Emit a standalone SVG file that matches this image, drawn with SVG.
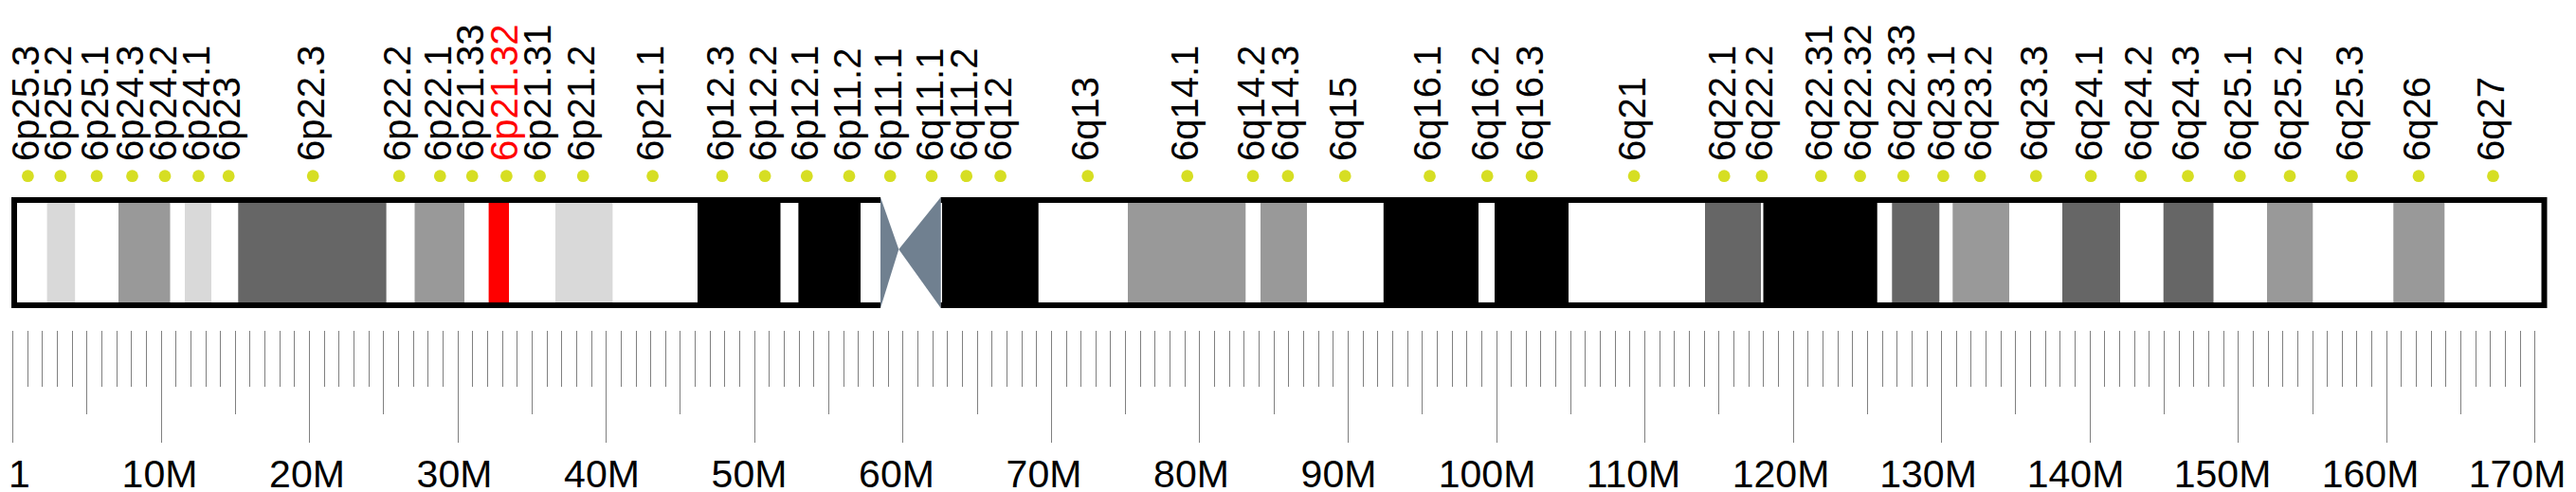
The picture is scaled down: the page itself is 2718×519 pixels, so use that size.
<svg xmlns="http://www.w3.org/2000/svg" width="2718" height="519" viewBox="0 0 2718 519">
<style>
.gneg{fill:#fff}.g25{fill:#d9d9d9}.g50{fill:#999}.g75{fill:#666}.g100{fill:#000}.acen{fill:#708090}.sel{fill:#f00}
.lbl{font-family:"Liberation Sans",Arial,Helvetica,sans-serif;font-size:40px;fill:#000}
.lbl.red{fill:#f00}
.dot{fill:#d6de23}
.tick{stroke:#808080;stroke-width:1;fill:none;shape-rendering:crispEdges}
.scale{font-family:"Liberation Sans",Arial,Helvetica,sans-serif;font-size:41px;fill:#000;text-anchor:middle}
.outline{fill:none;stroke:#000;stroke-width:6;stroke-linejoin:miter}
</style>
<rect width="2718" height="519" fill="#fff"/>
<g id="chromosome">
<rect class="gneg" x="15" y="211" width="914" height="111"/>
<rect class="gneg" x="992.7" y="211" width="1691.8" height="111"/>
<rect class="g25" x="49.6" y="211" width="29.6" height="111"/>
<rect class="g50" x="125" y="211" width="54.5" height="111"/>
<rect class="g25" x="195" y="211" width="28" height="111"/>
<rect class="g75" x="251.3" y="211" width="156.3" height="111"/>
<rect class="g50" x="437.5" y="211" width="52.5" height="111"/>
<rect class="sel" x="515.6" y="211" width="21.4" height="111"/>
<rect class="g25" x="586" y="211" width="60.4" height="111"/>
<rect class="g100" x="736" y="211" width="87.5" height="111"/>
<rect class="g100" x="842.4" y="211" width="65.6" height="111"/>
<polygon class="acen" points="929,208 948.3,263 929,325"/>
<polygon class="acen" points="992.7,208 948.3,263 992.7,325"/>
<rect class="g100" x="994" y="211" width="101.7" height="111"/>
<rect class="g50" x="1190" y="211" width="124.3" height="111"/>
<rect class="g50" x="1330" y="211" width="49" height="111"/>
<rect class="g100" x="1459.8" y="211" width="100.2" height="111"/>
<rect class="g100" x="1577" y="211" width="78" height="111"/>
<rect class="g75" x="1799" y="211" width="59" height="111"/>
<rect class="g100" x="1860.5" y="211" width="120.2" height="111"/>
<rect class="g75" x="1996.3" y="211" width="50" height="111"/>
<rect class="g50" x="2060.3" y="211" width="59.7" height="111"/>
<rect class="g75" x="2176" y="211" width="61" height="111"/>
<rect class="g75" x="2282.7" y="211" width="52.8" height="111"/>
<rect class="g50" x="2392" y="211" width="48.3" height="111"/>
<rect class="g50" x="2525.3" y="211" width="54" height="111"/>
<path class="outline" d="M929,211H15V322H929"/>
<path class="outline" d="M992.7,211H2684.5V322H992.7"/>
</g>
<g id="connectors"></g>
<g id="bands">
<g id="b6p25-3"><circle class="dot" cx="29.4" cy="185.7" r="6.4"/><text class="lbl" transform="translate(40.9,170) rotate(-90)">6p25.3</text></g>
<g id="b6p25-2"><circle class="dot" cx="63.8" cy="185.7" r="6.4"/><text class="lbl" transform="translate(75.3,170) rotate(-90)">6p25.2</text></g>
<g id="b6p25-1"><circle class="dot" cx="102.1" cy="185.7" r="6.4"/><text class="lbl" transform="translate(113.6,170) rotate(-90)">6p25.1</text></g>
<g id="b6p24-3"><circle class="dot" cx="139.5" cy="185.7" r="6.4"/><text class="lbl" transform="translate(151,170) rotate(-90)">6p24.3</text></g>
<g id="b6p24-2"><circle class="dot" cx="174" cy="185.7" r="6.4"/><text class="lbl" transform="translate(185.5,170) rotate(-90)">6p24.2</text></g>
<g id="b6p24-1"><circle class="dot" cx="209.5" cy="185.7" r="6.4"/><text class="lbl" transform="translate(221,170) rotate(-90)">6p24.1</text></g>
<g id="b6p23"><circle class="dot" cx="241.2" cy="185.7" r="6.4"/><text class="lbl" transform="translate(252.7,170) rotate(-90)">6p23</text></g>
<g id="b6p22-3"><circle class="dot" cx="330.2" cy="185.7" r="6.4"/><text class="lbl" transform="translate(341.7,170) rotate(-90)">6p22.3</text></g>
<g id="b6p22-2"><circle class="dot" cx="421.2" cy="185.7" r="6.4"/><text class="lbl" transform="translate(432.7,170) rotate(-90)">6p22.2</text></g>
<g id="b6p22-1"><circle class="dot" cx="464.3" cy="185.7" r="6.4"/><text class="lbl" transform="translate(475.8,170) rotate(-90)">6p22.1</text></g>
<g id="b6p21-33"><circle class="dot" cx="498.2" cy="185.7" r="6.4"/><text class="lbl" transform="translate(509.7,170) rotate(-90)">6p21.33</text></g>
<g id="b6p21-32"><circle class="dot" cx="534.4" cy="185.7" r="6.4"/><text class="lbl red" transform="translate(545.9,170) rotate(-90)">6p21.32</text></g>
<g id="b6p21-31"><circle class="dot" cx="569.6" cy="185.7" r="6.4"/><text class="lbl" transform="translate(581.1,170) rotate(-90)">6p21.31</text></g>
<g id="b6p21-2"><circle class="dot" cx="615.2" cy="185.7" r="6.4"/><text class="lbl" transform="translate(626.7,170) rotate(-90)">6p21.2</text></g>
<g id="b6p21-1"><circle class="dot" cx="688.6" cy="185.7" r="6.4"/><text class="lbl" transform="translate(700.1,170) rotate(-90)">6p21.1</text></g>
<g id="b6p12-3"><circle class="dot" cx="762" cy="185.7" r="6.4"/><text class="lbl" transform="translate(773.5,170) rotate(-90)">6p12.3</text></g>
<g id="b6p12-2"><circle class="dot" cx="807.1" cy="185.7" r="6.4"/><text class="lbl" transform="translate(818.6,170) rotate(-90)">6p12.2</text></g>
<g id="b6p12-1"><circle class="dot" cx="851.3" cy="185.7" r="6.4"/><text class="lbl" transform="translate(862.8,170) rotate(-90)">6p12.1</text></g>
<g id="b6p11-2"><circle class="dot" cx="896" cy="185.7" r="6.4"/><text class="lbl" transform="translate(907.5,170) rotate(-90)">6p11.2</text></g>
<g id="b6p11-1"><circle class="dot" cx="939.2" cy="185.7" r="6.4"/><text class="lbl" transform="translate(950.7,170) rotate(-90)">6p11.1</text></g>
<g id="b6q11-1"><circle class="dot" cx="983" cy="185.7" r="6.4"/><text class="lbl" transform="translate(994.5,170) rotate(-90)">6q11.1</text></g>
<g id="b6q11-2"><circle class="dot" cx="1019.7" cy="185.7" r="6.4"/><text class="lbl" transform="translate(1031.2,170) rotate(-90)">6q11.2</text></g>
<g id="b6q12"><circle class="dot" cx="1055.6" cy="185.7" r="6.4"/><text class="lbl" transform="translate(1067.1,170) rotate(-90)">6q12</text></g>
<g id="b6q13"><circle class="dot" cx="1147.7" cy="185.7" r="6.4"/><text class="lbl" transform="translate(1159.2,170) rotate(-90)">6q13</text></g>
<g id="b6q14-1"><circle class="dot" cx="1252.7" cy="185.7" r="6.4"/><text class="lbl" transform="translate(1264.2,170) rotate(-90)">6q14.1</text></g>
<g id="b6q14-2"><circle class="dot" cx="1322" cy="185.7" r="6.4"/><text class="lbl" transform="translate(1333.5,170) rotate(-90)">6q14.2</text></g>
<g id="b6q14-3"><circle class="dot" cx="1358.9" cy="185.7" r="6.4"/><text class="lbl" transform="translate(1370.4,170) rotate(-90)">6q14.3</text></g>
<g id="b6q15"><circle class="dot" cx="1419.2" cy="185.7" r="6.4"/><text class="lbl" transform="translate(1430.7,170) rotate(-90)">6q15</text></g>
<g id="b6q16-1"><circle class="dot" cx="1508.5" cy="185.7" r="6.4"/><text class="lbl" transform="translate(1520,170) rotate(-90)">6q16.1</text></g>
<g id="b6q16-2"><circle class="dot" cx="1569.2" cy="185.7" r="6.4"/><text class="lbl" transform="translate(1580.7,170) rotate(-90)">6q16.2</text></g>
<g id="b6q16-3"><circle class="dot" cx="1616.1" cy="185.7" r="6.4"/><text class="lbl" transform="translate(1627.6,170) rotate(-90)">6q16.3</text></g>
<g id="b6q21"><circle class="dot" cx="1724.1" cy="185.7" r="6.4"/><text class="lbl" transform="translate(1735.6,170) rotate(-90)">6q21</text></g>
<g id="b6q22-1"><circle class="dot" cx="1819.2" cy="185.7" r="6.4"/><text class="lbl" transform="translate(1830.7,170) rotate(-90)">6q22.1</text></g>
<g id="b6q22-2"><circle class="dot" cx="1858.9" cy="185.7" r="6.4"/><text class="lbl" transform="translate(1870.4,170) rotate(-90)">6q22.2</text></g>
<g id="b6q22-31"><circle class="dot" cx="1921.4" cy="185.7" r="6.4"/><text class="lbl" transform="translate(1932.9,170) rotate(-90)">6q22.31</text></g>
<g id="b6q22-32"><circle class="dot" cx="1962.6" cy="185.7" r="6.4"/><text class="lbl" transform="translate(1974.1,170) rotate(-90)">6q22.32</text></g>
<g id="b6q22-33"><circle class="dot" cx="2008.3" cy="185.7" r="6.4"/><text class="lbl" transform="translate(2019.8,170) rotate(-90)">6q22.33</text></g>
<g id="b6q23-1"><circle class="dot" cx="2050.4" cy="185.7" r="6.4"/><text class="lbl" transform="translate(2061.9,170) rotate(-90)">6q23.1</text></g>
<g id="b6q23-2"><circle class="dot" cx="2089.1" cy="185.7" r="6.4"/><text class="lbl" transform="translate(2100.6,170) rotate(-90)">6q23.2</text></g>
<g id="b6q23-3"><circle class="dot" cx="2148.3" cy="185.7" r="6.4"/><text class="lbl" transform="translate(2159.8,170) rotate(-90)">6q23.3</text></g>
<g id="b6q24-1"><circle class="dot" cx="2206.1" cy="185.7" r="6.4"/><text class="lbl" transform="translate(2217.6,170) rotate(-90)">6q24.1</text></g>
<g id="b6q24-2"><circle class="dot" cx="2258.8" cy="185.7" r="6.4"/><text class="lbl" transform="translate(2270.3,170) rotate(-90)">6q24.2</text></g>
<g id="b6q24-3"><circle class="dot" cx="2308.5" cy="185.7" r="6.4"/><text class="lbl" transform="translate(2320,170) rotate(-90)">6q24.3</text></g>
<g id="b6q25-1"><circle class="dot" cx="2363.3" cy="185.7" r="6.4"/><text class="lbl" transform="translate(2374.8,170) rotate(-90)">6q25.1</text></g>
<g id="b6q25-2"><circle class="dot" cx="2416" cy="185.7" r="6.4"/><text class="lbl" transform="translate(2427.5,170) rotate(-90)">6q25.2</text></g>
<g id="b6q25-3"><circle class="dot" cx="2481.5" cy="185.7" r="6.4"/><text class="lbl" transform="translate(2493,170) rotate(-90)">6q25.3</text></g>
<g id="b6q26"><circle class="dot" cx="2552" cy="185.7" r="6.4"/><text class="lbl" transform="translate(2563.5,170) rotate(-90)">6q26</text></g>
<g id="b6q27"><circle class="dot" cx="2630.5" cy="185.7" r="6.4"/><text class="lbl" transform="translate(2642,170) rotate(-90)">6q27</text></g>
</g>
<g id="ruler">
<path class="tick" d="M29.16,349v59M44.81,349v59M60.47,349v59M76.12,349v59M107.43,349v59M123.09,349v59M138.74,349v59M154.4,349v59M185.71,349v59M201.36,349v59M217.02,349v59M232.67,349v59M263.98,349v59M279.64,349v59M295.29,349v59M310.95,349v59M342.26,349v59M357.91,349v59M373.57,349v59M389.22,349v59M420.53,349v59M436.19,349v59M451.84,349v59M467.5,349v59M498.81,349v59M514.46,349v59M530.12,349v59M545.77,349v59M577.08,349v59M592.74,349v59M608.39,349v59M624.05,349v59M655.36,349v59M671.01,349v59M686.67,349v59M702.32,349v59M733.63,349v59M749.29,349v59M764.94,349v59M780.6,349v59M811.91,349v59M827.56,349v59M843.22,349v59M858.87,349v59M890.18,349v59M905.84,349v59M921.49,349v59M937.15,349v59M968.46,349v59M984.11,349v59M999.77,349v59M1015.42,349v59M1046.73,349v59M1062.39,349v59M1078.04,349v59M1093.7,349v59M1125.01,349v59M1140.66,349v59M1156.32,349v59M1171.97,349v59M1203.28,349v59M1218.94,349v59M1234.59,349v59M1250.25,349v59M1281.56,349v59M1297.21,349v59M1312.87,349v59M1328.52,349v59M1359.83,349v59M1375.49,349v59M1391.14,349v59M1406.8,349v59M1438.11,349v59M1453.76,349v59M1469.42,349v59M1485.07,349v59M1516.38,349v59M1532.04,349v59M1547.69,349v59M1563.35,349v59M1594.66,349v59M1610.31,349v59M1625.97,349v59M1641.62,349v59M1672.93,349v59M1688.59,349v59M1704.24,349v59M1719.9,349v59M1751.21,349v59M1766.86,349v59M1782.52,349v59M1798.17,349v59M1829.48,349v59M1845.14,349v59M1860.79,349v59M1876.45,349v59M1907.76,349v59M1923.41,349v59M1939.07,349v59M1954.72,349v59M1986.03,349v59M2001.69,349v59M2017.34,349v59M2033,349v59M2064.31,349v59M2079.96,349v59M2095.62,349v59M2111.27,349v59M2142.58,349v59M2158.24,349v59M2173.89,349v59M2189.55,349v59M2220.86,349v59M2236.51,349v59M2252.17,349v59M2267.82,349v59M2299.13,349v59M2314.79,349v59M2330.44,349v59M2346.1,349v59M2377.41,349v59M2393.06,349v59M2408.72,349v59M2424.37,349v59M2455.68,349v59M2471.34,349v59M2486.99,349v59M2502.65,349v59M2533.96,349v59M2549.61,349v59M2565.27,349v59M2580.92,349v59M2612.23,349v59M2627.89,349v59M2643.54,349v59M2659.2,349v59"/>
<path class="tick" d="M91.78,349v88M248.33,349v88M404.88,349v88M561.43,349v88M717.98,349v88M874.53,349v88M1031.08,349v88M1187.63,349v88M1344.18,349v88M1500.73,349v88M1657.28,349v88M1813.83,349v88M1970.38,349v88M2126.93,349v88M2283.48,349v88M2440.03,349v88M2596.58,349v88"/>
<path class="tick" d="M13.5,349v118M170.05,349v118M326.6,349v118M483.15,349v118M639.7,349v118M796.25,349v118M952.8,349v118M1109.35,349v118M1265.9,349v118M1422.45,349v118M1579,349v118M1735.55,349v118M1892.1,349v118M2048.65,349v118M2205.2,349v118M2361.75,349v118M2518.3,349v118M2674.85,349v118"/>
<text class="scale" x="9" y="514" style="text-anchor:start">1</text>
<text class="scale" x="168.5" y="514">10M</text>
<text class="scale" x="324" y="514">20M</text>
<text class="scale" x="479.5" y="514">30M</text>
<text class="scale" x="635" y="514">40M</text>
<text class="scale" x="790.5" y="514">50M</text>
<text class="scale" x="946" y="514">60M</text>
<text class="scale" x="1101.5" y="514">70M</text>
<text class="scale" x="1257" y="514">80M</text>
<text class="scale" x="1412.5" y="514">90M</text>
<text class="scale" x="1569" y="514">100M</text>
<text class="scale" x="1723.5" y="514">110M</text>
<text class="scale" x="1879" y="514">120M</text>
<text class="scale" x="2034.5" y="514">130M</text>
<text class="scale" x="2190" y="514">140M</text>
<text class="scale" x="2345" y="514">150M</text>
<text class="scale" x="2501" y="514">160M</text>
<text class="scale" x="2656" y="514">170M</text>
</g>
</svg>
